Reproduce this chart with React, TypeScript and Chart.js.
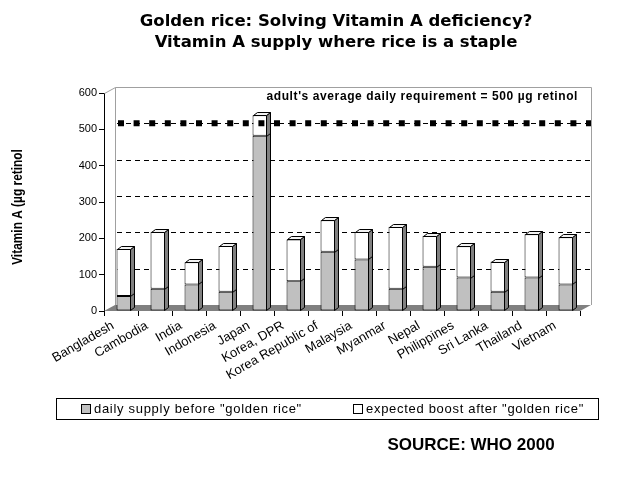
import React, { useEffect, useRef } from "react";
import { Chart, registerables } from "chart.js";

Chart.register(...registerables);

const categories = [
  "Bangladesh", "Cambodia", "India", "Indonesia", "Japan", "Korea, DPR",
  "Korea Republic of", "Malaysia", "Myanmar", "Nepal", "Philippines",
  "Sri Lanka", "Thailand", "Vietnam",
];
const dailySupplyBefore = [41, 61, 73, 53, 482, 82, 163, 142, 61, 122, 92, 53, 92, 73];
const expectedBoost = [130, 157, 61, 126, 57, 115, 87, 76, 171, 85, 86, 83, 119, 130];
const yTickValues = [0, 100, 200, 300, 400, 500, 600];
const requirementValue = 500;
const requirementLabel = "adult's average daily requirement = 500 \u00b5g retinol";
const seriesLabels = ['daily supply before "golden rice"', 'expected boost after "golden rice"'];
const titleLines = ["Golden rice: Solving Vitamin A deficiency?", "Vitamin A supply where rice is a staple"];
const yAxisTitle = "Vitamin A (\u00b5g retinol";
const sourceText = "SOURCE: WHO 2000";

const W = 638;
const H = 479;
const DX = 11; // wall depth
const DY = 6;
const BDX = 4; // bar depth
const BDY = 3;
const BAR_SHIFT = 3;
const FONT = "'Liberation Sans', Arial, sans-serif";

const threeD = {
  id: "threeD",
  beforeDraw(chart: any) {
    const { ctx } = chart;
    ctx.save();
    ctx.fillStyle = "#fff";
    ctx.fillRect(0, 0, chart.width, chart.height);
    ctx.restore();
  },
  beforeDatasetsDraw(chart: any) {
    const { ctx, chartArea, scales } = chart;
    const y = scales.y;
    const { left, right, top, bottom } = chartArea;
    ctx.save();
    // floor
    ctx.fillStyle = "#808080";
    ctx.beginPath();
    ctx.moveTo(left, bottom);
    ctx.lineTo(right, bottom);
    ctx.lineTo(right + DX, bottom - DY);
    ctx.lineTo(left + DX, bottom - DY);
    ctx.closePath();
    ctx.fill();
    // walls
    ctx.strokeStyle = "#a0a0a0";
    ctx.lineWidth = 1;
    ctx.beginPath();
    ctx.moveTo(left + 0.5, top + 0.5);
    ctx.lineTo(left + DX + 0.5, top - DY + 0.5);
    ctx.lineTo(right + DX + 0.5, top - DY + 0.5);
    ctx.lineTo(right + DX + 0.5, bottom - DY);
    ctx.moveTo(left + DX + 0.5, top - DY + 0.5);
    ctx.lineTo(left + DX + 0.5, bottom - DY);
    ctx.stroke();
    // gridlines on back wall
    ctx.strokeStyle = "#000";
    ctx.setLineDash([5, 4]);
    yTickValues.forEach((v) => {
      if (v === 0 || v === 600) return;
      const py = Math.round(y.getPixelForValue(v) - DY) + 0.5;
      ctx.beginPath();
      ctx.moveTo(left + DX + 2, py);
      ctx.lineTo(right + DX, py);
      ctx.stroke();
    });
    ctx.setLineDash([]);
    ctx.restore();
    ctx.save();
    ctx.translate(BAR_SHIFT, 0);
  },
  afterDatasetsDraw(chart: any) {
    const { ctx } = chart;
    const m0 = chart.getDatasetMeta(0).data;
    const m1 = chart.getDatasetMeta(1).data;
    ctx.lineWidth = 1;
    ctx.strokeStyle = "#000";
    for (let i = 0; i < m0.length; i++) {
      const b0 = m0[i];
      const b1 = m1[i];
      const l = Math.round(b0.x - b0.width / 2) + 0.5;
      const r = Math.round(b0.x + b0.width / 2) - 0.5;
      const t = Math.round(b1.y) + 0.5;
      const mid = Math.round(b0.y) + 0.5;
      const bot = Math.round(b0.base) - 0.5;
      ctx.fillStyle = "#808080";
      ctx.beginPath();
      ctx.moveTo(r, bot);
      ctx.lineTo(r + BDX, bot - BDY);
      ctx.lineTo(r + BDX, t - BDY);
      ctx.lineTo(r, t);
      ctx.closePath();
      ctx.fill();
      ctx.stroke();
      ctx.beginPath();
      ctx.moveTo(r, mid);
      ctx.lineTo(r + BDX, mid - BDY);
      ctx.stroke();
      ctx.fillStyle = "#f2f2f2";
      ctx.beginPath();
      ctx.moveTo(l, t);
      ctx.lineTo(l + BDX, t - BDY);
      ctx.lineTo(r + BDX, t - BDY);
      ctx.lineTo(r, t);
      ctx.closePath();
      ctx.fill();
      ctx.stroke();
    }
    ctx.restore();

    // requirement line (square dots)
    const { chartArea, scales } = chart;
    const py = scales.y.getPixelForValue(requirementValue) - DY;
    ctx.save();
    ctx.strokeStyle = "#000";
    ctx.lineWidth = 6;
    ctx.setLineDash([6, 9.6]);
    ctx.beginPath();
    ctx.moveTo(chartArea.left + DX + 3, py);
    ctx.lineTo(chartArea.right + DX, py);
    ctx.stroke();
    ctx.restore();
  },
  afterDraw(chart: any) {
    const { ctx, chartArea } = chart;
    ctx.save();
    ctx.fillStyle = "#000";
    ctx.textBaseline = "middle";

    // titles
    ctx.font = `bold 16.5px 'DejaVu Sans', Verdana, sans-serif`;
    ctx.textAlign = "center";
    ctx.fillText(titleLines[0], 336, 22);
    ctx.fillText(titleLines[1], 336, 43);

    // y axis title (condensed)
    ctx.save();
    ctx.translate(18, 207);
    ctx.rotate(-Math.PI / 2);
    ctx.scale(0.85, 1);
    ctx.font = `bold 14px ${FONT}`;
    ctx.textAlign = "center";
    ctx.fillText(yAxisTitle, 0, 0);
    ctx.restore();

    // requirement label
    ctx.font = `bold 12px ${FONT}`;
    (ctx as any).letterSpacing = "0.6px";
    ctx.textAlign = "right";
    ctx.fillText(requirementLabel, chartArea.right - 2, 97);

    // legend
    (ctx as any).letterSpacing = "0px";
    ctx.strokeStyle = "#000";
    ctx.lineWidth = 1;
    ctx.strokeRect(56.5, 398.5, 542, 21);
    ctx.font = `13px ${FONT}`;
    ctx.textAlign = "left";
    const xs = [81, 353];
    chart.data.datasets.forEach((ds: any, i: number) => {
      ctx.fillStyle = ds.backgroundColor;
      ctx.fillRect(xs[i] + 0.5, 404.5, 9, 9);
      ctx.strokeStyle = "#000";
      ctx.strokeRect(xs[i] + 0.5, 404.5, 9, 9);
      ctx.fillStyle = "#000";
      (ctx as any).letterSpacing = "0.7px";
      ctx.fillText(ds.label, xs[i] + 13, 409.5);
      (ctx as any).letterSpacing = "0px";
    });

    // source
    ctx.font = `bold 17px ${FONT}`;
    ctx.textAlign = "center";
    ctx.fillText(sourceText, 471, 445);
    ctx.restore();
  },
};

export default function App() {
  const ref = useRef<HTMLCanvasElement | null>(null);
  useEffect(() => {
    if (!ref.current) return;
    const chart = new Chart(ref.current, {
      type: "bar",
      data: {
        labels: categories,
        datasets: [
          {
            label: seriesLabels[0],
            data: dailySupplyBefore,
            backgroundColor: "#c0c0c0",
            borderColor: "#000",
            borderWidth: 1,
            borderSkipped: false,
            clip: false as any,
          },
          {
            label: seriesLabels[1],
            data: expectedBoost,
            backgroundColor: "#ffffff",
            borderColor: "#000",
            borderWidth: 1,
            borderSkipped: false,
            clip: false as any,
          },
        ],
      },
      options: {
        responsive: false,
        animation: false,
        devicePixelRatio: 1,
        layout: { padding: { left: 0, right: W - 580, top: 93, bottom: 0 } },
        datasets: { bar: { categoryPercentage: 1, barPercentage: 0.44 } },
        plugins: {
          legend: { display: false },
          tooltip: { enabled: false },
          title: { display: false },
        },
        scales: {
          x: {
            stacked: true,
            grid: { display: true, drawOnChartArea: false, drawTicks: true, tickLength: 5, color: "#000", offset: true },
            border: { display: false },
            ticks: {
              autoSkip: false,
              minRotation: 30,
              maxRotation: 30,
              labelOffset: -8,
              padding: 2,
              color: "#000",
              font: { family: FONT, size: 13 },
            },
            afterFit: (s: any) => { s.height = H - 311; },
          },
          y: {
            stacked: true,
            min: 0,
            max: 600,
            afterBuildTicks: (s: any) => { s.ticks = yTickValues.map((v) => ({ value: v })); },
            ticks: { color: "#000", padding: 2, font: { family: FONT, size: 11 } },
            grid: { display: true, drawOnChartArea: false, drawTicks: true, tickLength: 5, color: "#000" },
            border: { display: true, color: "#000" },
            afterFit: (s: any) => { s.width = 104; },
          },
        },
      },
      plugins: [threeD],
    });
    return () => chart.destroy();
  }, []);
  return (
    <div style={{ position: "absolute", left: 0, top: 0, width: W, height: H }}>
      <canvas ref={ref} width={W} height={H} style={{ width: W, height: H, display: "block" }} />
    </div>
  );
}
